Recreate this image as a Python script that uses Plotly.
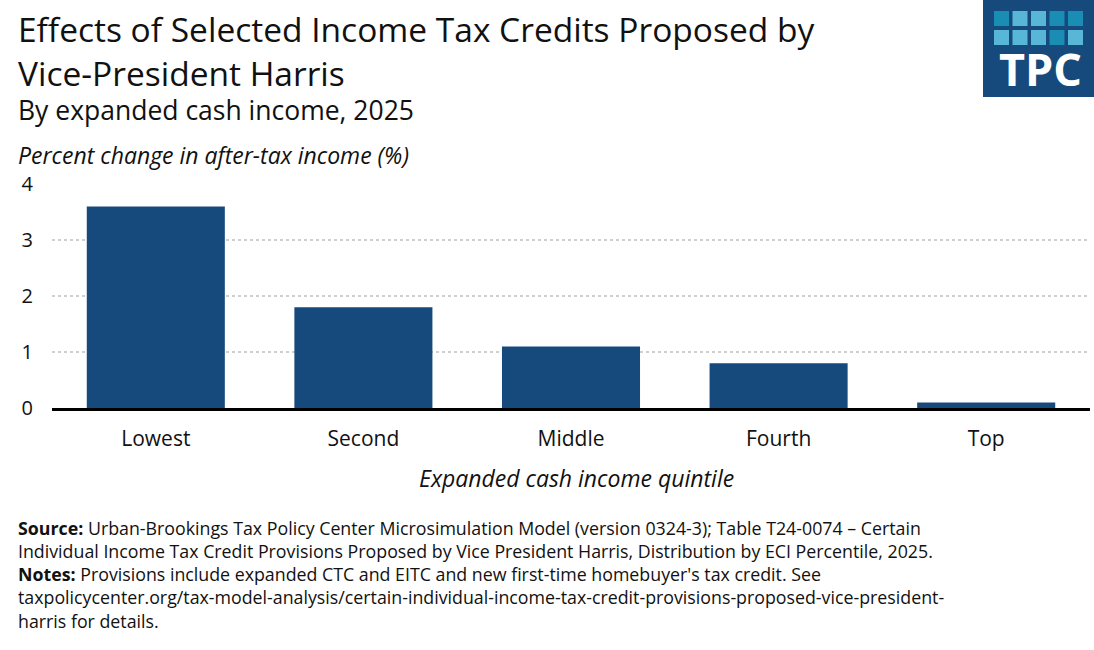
import plotly.graph_objects as go

categories = ["Lowest", "Second", "Middle", "Fourth", "Top"]
values = [3.6, 1.8, 1.1, 0.8, 0.1]
y_ticks = [0, 1, 2, 3, 4]

W, H = 1094, 650
L, R, T, B = 52, 1090, 184, 408
FONT = "Open Sans"
BAR = "#174a7c"

def px(x):
    return (x - L) / (R - L)

def py(y):
    return (B - y) / (B - T)

fig = go.Figure(go.Bar(x=categories, y=values, marker=dict(color=BAR, line=dict(width=0))))

annotations = []
def txt(x, y, s, size, italic=False, color="#111", xanchor="left", yanchor="middle"):
    annotations.append(dict(
        x=px(x), y=py(y), xref="paper", yref="paper", text=s, showarrow=False,
        xanchor=xanchor, yanchor=yanchor, align="left",
        font=dict(family=FONT, size=size, color=color, style="italic" if italic else "normal"),
    ))

txt(16, 51, "Effects of Selected Income Tax Credits Proposed by<br>Vice-President Harris", 33.5)
txt(16, 110, "By expanded cash income, 2025", 26.5)
txt(16, 155, "Percent change in after-tax income (%)", 23, italic=True)
txt(576, 478, "Expanded cash income quintile", 23, italic=True, xanchor="center")

src = [
    "<b>Source:</b> Urban-Brookings Tax Policy Center Microsimulation Model (version 0324-3); Table T24-0074 – Certain",
    "Individual Income Tax Credit Provisions Proposed by Vice President Harris, Distribution by ECI Percentile, 2025.",
    "<b>Notes:</b> Provisions include expanded CTC and EITC and new first-time homebuyer's tax credit. See",
    "taxpolicycenter.org/tax-model-analysis/certain-individual-income-tax-credit-provisions-proposed-vice-president-",
    "harris for details.",
]
txt(16, 574, "<br>".join(src), 17.8)

shapes = []
# logo box
shapes.append(dict(type="rect", xref="paper", yref="paper", x0=px(983), x1=px(1094), y0=py(97), y1=py(0),
                   fillcolor="#174a7c", line=dict(width=0), layer="above"))
dark, light = "#1a8db5", "#58b7d7"
rows = [[dark, light, light, dark, dark], [light, light, light, dark, light]]
for r, row in enumerate(rows):
    for c, col in enumerate(row):
        x0 = 994 + c * 18.5
        y0 = 11 + r * 19
        shapes.append(dict(type="rect", xref="paper", yref="paper", x0=px(x0), x1=px(x0 + 15),
                           y0=py(y0 + 15), y1=py(y0), fillcolor=col, line=dict(width=0), layer="above"))
annotations.append(dict(x=px(1040), y=py(68), xref="paper", yref="paper", text="<b>TPC</b>", showarrow=False,
                        xanchor="center", yanchor="middle",
                        font=dict(family="Open Sans", size=45, color="white")))

fig.update_layout(
    width=W, height=H,
    margin=dict(l=L, r=W - R, t=T, b=H - B, pad=0),
    paper_bgcolor="white", plot_bgcolor="white",
    bargap=0.335,
    showlegend=False,
    font=dict(family=FONT, size=20, color="#111"),
    annotations=annotations,
    shapes=shapes,
    xaxis=dict(showline=True, linecolor="black", linewidth=3, ticks="", showgrid=False,
               tickfont=dict(family=FONT, size=21, color="#111"), ticklabelstandoff=10),
    yaxis=dict(range=[0, 4], tickvals=y_ticks, showgrid=True, gridcolor="#cfcfcf", gridwidth=1.5,
               griddash="dot", zeroline=False, showline=False, ticks="",
               tickfont=dict(family=FONT, size=20, color="#111"), ticklabelstandoff=18),
)

fig.write_html("out.html")
